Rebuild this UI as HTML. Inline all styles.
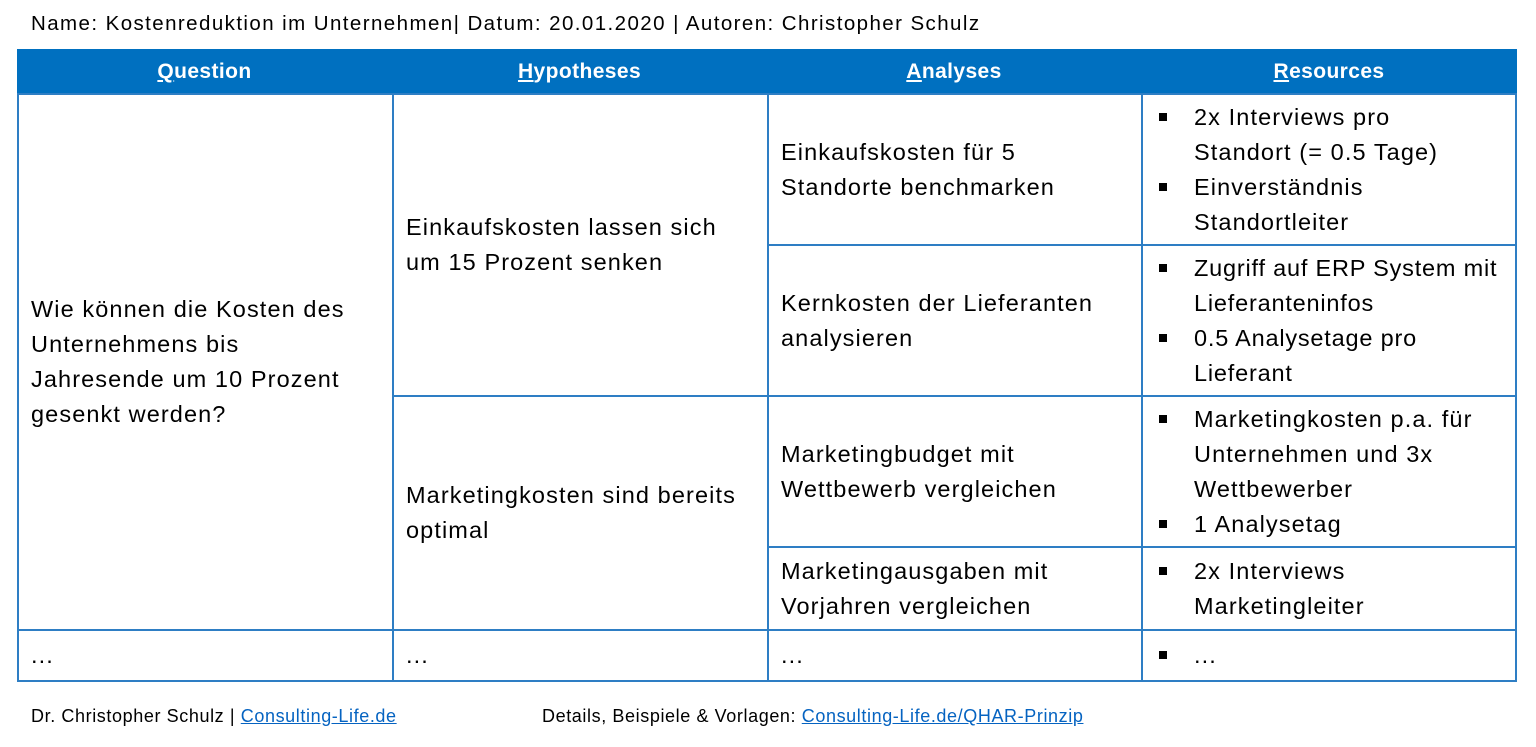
<!DOCTYPE html>
<html><head><meta charset="utf-8"><style>
body{margin:0;width:1536px;height:747px;background:#fff;font-family:"Liberation Sans",sans-serif;color:#000;position:relative;overflow:hidden}
.a{position:absolute}
.hdr{position:absolute;top:49px;height:45px;background:#0070c0;color:#fff;font-weight:bold;font-size:21px;letter-spacing:0.4px;display:flex;align-items:center;justify-content:center}
.hdr u{text-decoration:underline}
.c{position:absolute;border:2px solid #2e7ec4;box-sizing:border-box;display:flex;align-items:center;padding-left:12px;font-size:23.5px;letter-spacing:1.1px;line-height:35px;white-space:nowrap}
ul{list-style:none;margin:0;padding:0}
li{position:relative;padding-left:41px}
li:before{content:"";position:absolute;left:6px;top:13px;width:8px;height:8px;background:#000}
.f{font-size:18px;letter-spacing:0.6px;top:706px}
.f a{color:#0563c1;text-decoration:underline}
</style></head><body>
<div class="a" style="left:31px;top:12px;font-size:20.5px;letter-spacing:1.42px;white-space:nowrap">Name: Kostenreduktion im Unternehmen| Datum: 20.01.2020 | Autoren: Christopher Schulz</div>
<div class="a" style="left:17px;top:49px;width:1500px;height:633px;border:2px solid #2e7ec4;box-sizing:border-box"></div>
<div class="hdr" style="left:17px;width:375px"><span><u>Q</u>uestion</span></div>
<div class="hdr" style="left:392px;width:375px"><span><u>H</u>ypotheses</span></div>
<div class="hdr" style="left:767px;width:374px"><span><u>A</u>nalyses</span></div>
<div class="hdr" style="left:1141px;width:376px"><span><u>R</u>esources</span></div>

<div class="c" style="left:17px;top:93px;width:377px;height:538px">Wie können die Kosten des<br>Unternehmens bis<br>Jahresende um 10 Prozent<br>gesenkt werden?</div>
<div class="c" style="left:392px;top:93px;width:377px;height:304px">Einkaufskosten lassen sich<br>um 15 Prozent senken</div>
<div class="c" style="left:392px;top:395px;width:377px;height:236px">Marketingkosten sind bereits<br>optimal</div>
<div class="c" style="left:767px;top:93px;width:376px;height:153px">Einkaufskosten für 5<br>Standorte benchmarken</div>
<div class="c" style="left:767px;top:244px;width:376px;height:153px">Kernkosten der Lieferanten<br>analysieren</div>
<div class="c" style="left:767px;top:395px;width:376px;height:153px">Marketingbudget mit<br>Wettbewerb vergleichen</div>
<div class="c" style="left:767px;top:546px;width:376px;height:85px">Marketingausgaben mit<br>Vorjahren vergleichen</div>
<div class="c" style="left:1141px;top:93px;width:376px;height:153px;padding-left:10px"><ul><li>2x Interviews pro<br>Standort (= 0.5 Tage)</li><li>Einverständnis<br>Standortleiter</li></ul></div>
<div class="c" style="left:1141px;top:244px;width:376px;height:153px;padding-left:10px;letter-spacing:0.8px"><ul><li>Zugriff auf ERP System mit<br>Lieferanteninfos</li><li>0.5 Analysetage pro<br>Lieferant</li></ul></div>
<div class="c" style="left:1141px;top:395px;width:376px;height:153px;padding-left:10px"><ul><li>Marketingkosten p.a. für<br>Unternehmen und 3x<br>Wettbewerber</li><li>1 Analysetag</li></ul></div>
<div class="c" style="left:1141px;top:546px;width:376px;height:85px;padding-left:10px"><ul><li>2x Interviews<br>Marketingleiter</li></ul></div>
<div class="c" style="left:17px;top:629px;width:377px;height:53px">...</div>
<div class="c" style="left:392px;top:629px;width:377px;height:53px">...</div>
<div class="c" style="left:767px;top:629px;width:376px;height:53px">...</div>
<div class="c" style="left:1141px;top:629px;width:376px;height:53px;padding-left:10px"><ul><li>...</li></ul></div>

<div class="a f" style="left:31px">Dr. Christopher Schulz | <a>Consulting-Life.de</a></div>
<div class="a f" style="left:542px">Details, Beispiele &amp; Vorlagen: <a>Consulting-Life.de/QHAR-Prinzip</a></div>
</body></html>
